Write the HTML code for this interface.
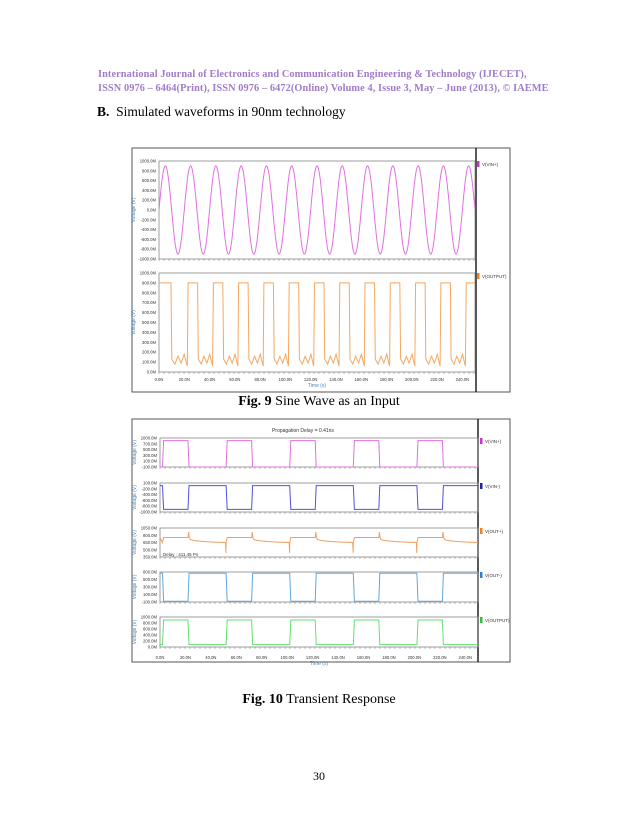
<!DOCTYPE html>
<html><head><meta charset="utf-8"><style>
body{margin:0;width:638px;height:826px;background:#fff;position:relative;overflow:hidden;font-family:"Liberation Serif",serif}
.t{position:absolute;white-space:nowrap}
.hdr{left:98px;color:#a07cc8;font-weight:bold;font-size:10.3px;letter-spacing:0.1px}
svg{position:absolute;left:0;top:0}
svg text{font-family:"Liberation Sans",sans-serif}
</style></head><body>
<div class="t hdr" style="top:69px">International Journal of Electronics and Communication Engineering &amp; Technology (IJECET),</div>
<div class="t hdr" style="top:83px">ISSN 0976 – 6464(Print), ISSN 0976 – 6472(Online) Volume 4, Issue 3, May – June (2013), © IAEME</div>
<div class="t" style="left:97px;top:104px;font-size:13.5px"><b>B.</b>&nbsp; Simulated waveforms in 90nm technology</div>
<div class="t" style="left:0;width:638px;text-align:center;top:394px;font-size:14px"><b>Fig. 9</b> Sine Wave as an Input</div>
<div class="t" style="left:0;width:638px;text-align:center;top:692px;font-size:14px"><b>Fig. 10</b> Transient Response</div>
<div class="t" style="left:0;width:638px;text-align:center;top:769px;font-size:12px">30</div>
<svg id="s" width="638" height="826"></svg>
<script>
// ---------- data ----------
const timeTicks=["0.0N","20.0N","40.0N","60.0N","80.0N","100.0N","120.0N","140.0N","160.0N","180.0N","200.0N","220.0N","240.0N"];
const tickVals=[0,20,40,60,80,100,120,140,160,180,200,220,240];
// Fig 9
const sineAmp=[900];           // mV
const sinePeriod=[20];         // ns
const sineTicks=["1000.0M","800.0M","600.0M","400.0M","200.0M","0.0M","-200.0M","-400.0M","-600.0M","-800.0M","-1000.0M"];
const outHighStart=[0,23,43,63,83,103,123,143,163,183,203,223,243];
const outHighEnd=[9.5,30.5,50.5,70.5,90.5,110.5,130.5,150.5,170.5,190.5,210.5,230.5,250];
const outHigh=[900];
const rippleVals=[130,80,160,90,180,60];   // low-state ripple pattern (mV)
const outTicks=["1000.0M","900.0M","800.0M","700.0M","600.0M","500.0M","400.0M","300.0M","200.0M","100.0M","0.0M"];
// Fig 10
const vinRise=[2,52,102,152,202];
const vinFall=[22,72,122,172,222];
const vinpTicks=["1000.0M","700.0M","500.0M","300.0M","100.0M","-100.0M"];
const vinmTicks=["100.0M","-200.0M","-400.0M","-600.0M","-800.0M","-1000.0M"];
const outpTicks=["1050.0M","800.0M","650.0M","500.0M","350.0M"];
const outmTicks=["800.0M","500.0M","300.0M","100.0M","-100.0M"];
const outTicks2=["1000.0M","800.0M","600.0M","400.0M","200.0M","0.0M"];

const S=document.getElementById('s');const NS="http://www.w3.org/2000/svg";
function el(tag,a,txt){const e=document.createElementNS(NS,tag);for(const k in a)e.setAttribute(k,a[k]);if(txt!==undefined)e.textContent=txt;S.appendChild(e);return e;}
function frame(x,y,w,h,div,name){
 const r=el('rect',{x:x,y:y,width:w,height:h,fill:'#fff',stroke:'#555','stroke-width':1});
 
 el('line',{x1:div,y1:y,x2:div,y2:y+h,stroke:'#222','stroke-width':1.5});
}
function panel(x0,x1,y0,y1,ticks,name,legend,color){
 const g=el('rect',{x:x0,y:y0,width:x1-x0,height:y1-y0,fill:'none',stroke:'#888','stroke-width':0.8});
 
 ticks.forEach((t,i)=>{const yy=y0+(y1-y0)*i/(ticks.length-1);
  el('text',{x:x0-3,y:yy+1.5,'font-size':4.2,'text-anchor':'end',fill:'#333'},t);});
 for(let x=x0;x<=x1;x+=5)el('line',{x1:x,y1:y1,x2:x,y2:y1+2,stroke:'#777','stroke-width':0.5});
 el('text',{x:x0-24,y:(y0+y1)/2,'font-size':5,fill:'#4a86c0','text-anchor':'middle',transform:`rotate(-90 ${x0-24} ${(y0+y1)/2})`},'Voltage (V)');
 const lg=el('rect',{x:legend[0],y:legend[1],width:2.5,height:6,fill:color});
 
 el('text',{x:legend[0]+5,y:legend[1]+5,'font-size':4.5,fill:'#333'},legend[2]);
}
function xaxis(x0,x1,y,tmax){
 tickVals.forEach((v,i)=>{el('text',{x:x0+(x1-x0)*v/tmax,y:y,'font-size':4.2,'text-anchor':'middle',fill:'#333'},timeTicks[i]);});
 el('text',{x:(x0+x1)/2,y:y+6,'font-size':5,'text-anchor':'middle',fill:'#4a86c0'},'Time (s)');
}
function path(pts,color,name){const p=el('path',{d:'M'+pts.map(p=>p[0].toFixed(1)+','+p[1].toFixed(1)).join('L'),fill:'none',stroke:color,'stroke-width':1});
 }

// ---------- Fig 9 ----------
frame(132,148,378,244,476,'fig9-frame');
const A0=159,A1=475,T=250;const X=t=>A0+(A1-A0)*t/T;
const p1=[161,259];const Y1=v=>p1[0]+(p1[1]-p1[0])*(1000-v)/2000;
panel(A0,A1,p1[0],p1[1],sineTicks,'vin-sine-panel',[477,161,'V(VIN+)'],'#cc33cc');
const sp=[];for(let t=0;t<=T;t+=0.5)sp.push([X(t),Y1(sineAmp[0]*Math.sin(2*Math.PI*t/sinePeriod[0]))]);
path(sp,'#e070e0','vin-sine');
const p2=[273,372];const Y2=v=>p2[0]+(p2[1]-p2[0])*(1000-v)/1000;
panel(A0,A1,p2[0],p2[1],outTicks,'output-panel',[477,273,'V(OUTPUT)'],'#f08020');
const op=[];
outHighStart.forEach((s,i)=>{
 op.push([X(s),Y2(outHigh[0])]);op.push([X(outHighEnd[i]),Y2(outHigh[0])]);
 const ne=i+1<outHighStart.length?outHighStart[i+1]:T;
 if(outHighEnd[i]<T){const n=rippleVals.length;
  for(let k=0;k<n;k++){const t=outHighEnd[i]+0.6+(ne-outHighEnd[i]-1.2)*k/(n-1);op.push([X(t),Y2(rippleVals[k])]);}}
});
path(op,'#f4a860','output-wave');
xaxis(A0,A1,381,T);

// ---------- Fig 10 ----------
frame(132,419,378,243,478,'fig10-frame');
el('text',{x:303,y:432,'font-size':5,'text-anchor':'middle',fill:'#333'},'Propagation Delay = 0.41ns');
const B0=160,B1=478;const XB=t=>B0+(B1-B0)*t/T;
const panels=[[438,467],[483,512],[528,557],[572,602],[617,647]];
function sq(pi,hi,lo,min,max,color,name,shape){
 const [a,b]=panels[pi];const Y=v=>a+(b-a)*(max-v)/(max-min);const pts=[[XB(0),Y(lo)]];
 vinRise.forEach((r,i)=>{pts.push([XB(r),Y(shape?shape.lowEnd:lo)]);pts.push([XB(r+0.8),Y(hi)]);
  pts.push([XB(vinFall[i]),Y(hi)]);
  if(shape){pts.push([XB(vinFall[i]+0.5),Y(shape.spike)]);pts.push([XB(vinFall[i]+1),Y(shape.lowStart)]);
   for(let k=1;k<=6;k++){const t=vinFall[i]+1+(k/6)**2*( (i+1<vinRise.length?vinRise[i+1]:T)-vinFall[i]-1.5);pts.push([XB(t),Y(shape.lowStart-(shape.lowStart-shape.lowEnd)*Math.sqrt(k/6))]);}
   if(i+1<vinRise.length)pts.push([XB(vinRise[i+1]-0.1),Y(shape.dip)]);}
  else pts.push([XB(vinFall[i]+0.8),Y(lo)]);});
 pts.push([XB(T),Y(shape?shape.lowEnd:lo)]);path(pts,color,name);
}
panel(B0,B1,...panels[0],vinpTicks,'vinp-panel',[480,438,'V(VIN+)'],'#cc33cc');
sq(0,900,-100,-100,1000,'#e070e0','vinp-wave');
panel(B0,B1,...panels[1],vinmTicks,'vinm-panel',[480,483,'V(VIN-)'],'#2020a0');
sq(1,-900,0,-1000,100,'#5050e0','vinm-wave');
panel(B0,B1,...panels[2],outpTicks,'outp-panel',[480,528,'V(OUT+)'],'#f08020');
sq(2,820,820,350,1050,'#f0a060','outp-wave',{spike:950,lowStart:820,lowEnd:700,dip:450});
el('text',{x:163,y:556,'font-size':4.5,fill:'#333'},'Delay : 411.45 Ps');
panel(B0,B1,...panels[3],outmTicks,'outm-panel',[480,572,'V(OUT-)'],'#3080d0');
sq(3,-80,760,-100,800,'#60a8e0','outm-wave');
panel(B0,B1,...panels[4],outTicks2,'output2-panel',[480,617,'V(OUTPUT)'],'#30c040');
sq(4,900,80,0,1000,'#60e070','output2-wave');
xaxis(B0,B1,659,T);
</script>
</body></html>
